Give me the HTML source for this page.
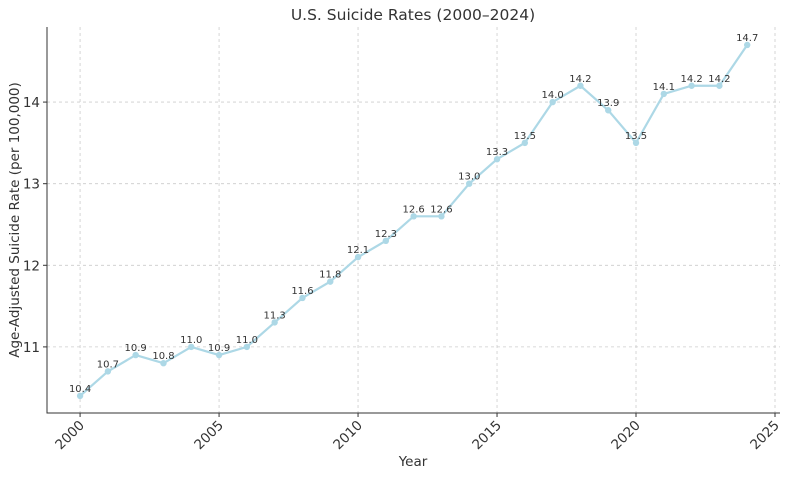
<!DOCTYPE html>
<html><head><meta charset="utf-8"><style>
body{margin:0;background:#fff;}
svg{display:block;font-family:"DejaVu Sans","Liberation Sans",sans-serif;}
</style></head><body>
<svg id="chart" width="800" height="477">
<text x="413" y="20" text-anchor="middle" font-size="15.5" fill="#333">U.S. Suicide Rates (2000–2024)</text>
<g id="grid"></g><g id="axes"></g><g id="series"></g>
<text x="413" y="466" text-anchor="middle" font-size="13.5" fill="#333">Year</text>
<text transform="translate(19,220) rotate(-90)" text-anchor="middle" font-size="13.5" fill="#333">Age-Adjusted Suicide Rate (per 100,000)</text>
</svg>
<script>
const years=[2000,2001,2002,2003,2004,2005,2006,2007,2008,2009,2010,2011,2012,2013,2014,2015,2016,2017,2018,2019,2020,2021,2022,2023,2024];
const rates=[10.4,10.7,10.9,10.8,11.0,10.9,11.0,11.3,11.6,11.8,12.1,12.3,12.6,12.6,13.0,13.3,13.5,14.0,14.2,13.9,13.5,14.1,14.2,14.2,14.7];
const xTicks=[2000,2005,2010,2015,2020,2025];
const yTicks=[11,12,13,14];
const L=47,R=780,T=27,B=413;
const xMin=1998.81,xMax=2025.18,yMin=10.19,yMax=14.92;
const xs=v=>L+(v-xMin)/(xMax-xMin)*(R-L);
const ys=v=>B-(v-yMin)/(yMax-yMin)*(B-T);
const NS="http://www.w3.org/2000/svg";
function mk(tag,attrs,parent){const e=document.createElementNS(NS,tag);for(const k in attrs)e.setAttribute(k,attrs[k]);parent.appendChild(e);return e;}
const grid=document.getElementById('grid'),axes=document.getElementById('axes'),series=document.getElementById('series');
xTicks.forEach(t=>{
 const x=xs(t);
 const g=mk('line',{x1:x,x2:x,y1:T,y2:B,stroke:'#cccccc','stroke-dasharray':'3,3','stroke-width':0.8},grid);
 
 
 mk('line',{x1:x,x2:x,y1:B,y2:B+4,stroke:'#333'},axes);
 const tx=mk('text',{transform:`translate(${x+5},${B+13}) rotate(-45)`,'text-anchor':'end','font-size':13.5,fill:'#333'},axes);
 tx.textContent=t;
 
 
});
yTicks.forEach(t=>{
 const y=ys(t);
 const g=mk('line',{x1:L,x2:R,y1:y,y2:y,stroke:'#cccccc','stroke-dasharray':'3,3','stroke-width':0.8},grid);
 
 
 mk('line',{x1:L-4,x2:L,y1:y,y2:y,stroke:'#333'},axes);
 const tx=mk('text',{x:L-7,y:y+5,'text-anchor':'end','font-size':13.5,fill:'#333'},axes);
 tx.textContent=t;
 
 
});
const ax=mk('path',{d:`M${L},${T}V${B}H${R}`,fill:'none',stroke:'#333','stroke-width':1},axes);


const line=mk('polyline',{points:years.map((y,i)=>xs(y)+','+ys(rates[i])).join(' '),fill:'none',stroke:'#add8e6','stroke-width':2.2},series);


years.forEach((yr,i)=>{
 const c=mk('circle',{cx:xs(yr),cy:ys(rates[i]),r:3.2,fill:'#add8e6'},series);
 
 
 const t=mk('text',{x:xs(yr),y:ys(rates[i])-4,'text-anchor':'middle','font-size':10,fill:'#333'},series);
 t.textContent=rates[i].toFixed(1);
 
 
});
</script>
</body></html>
